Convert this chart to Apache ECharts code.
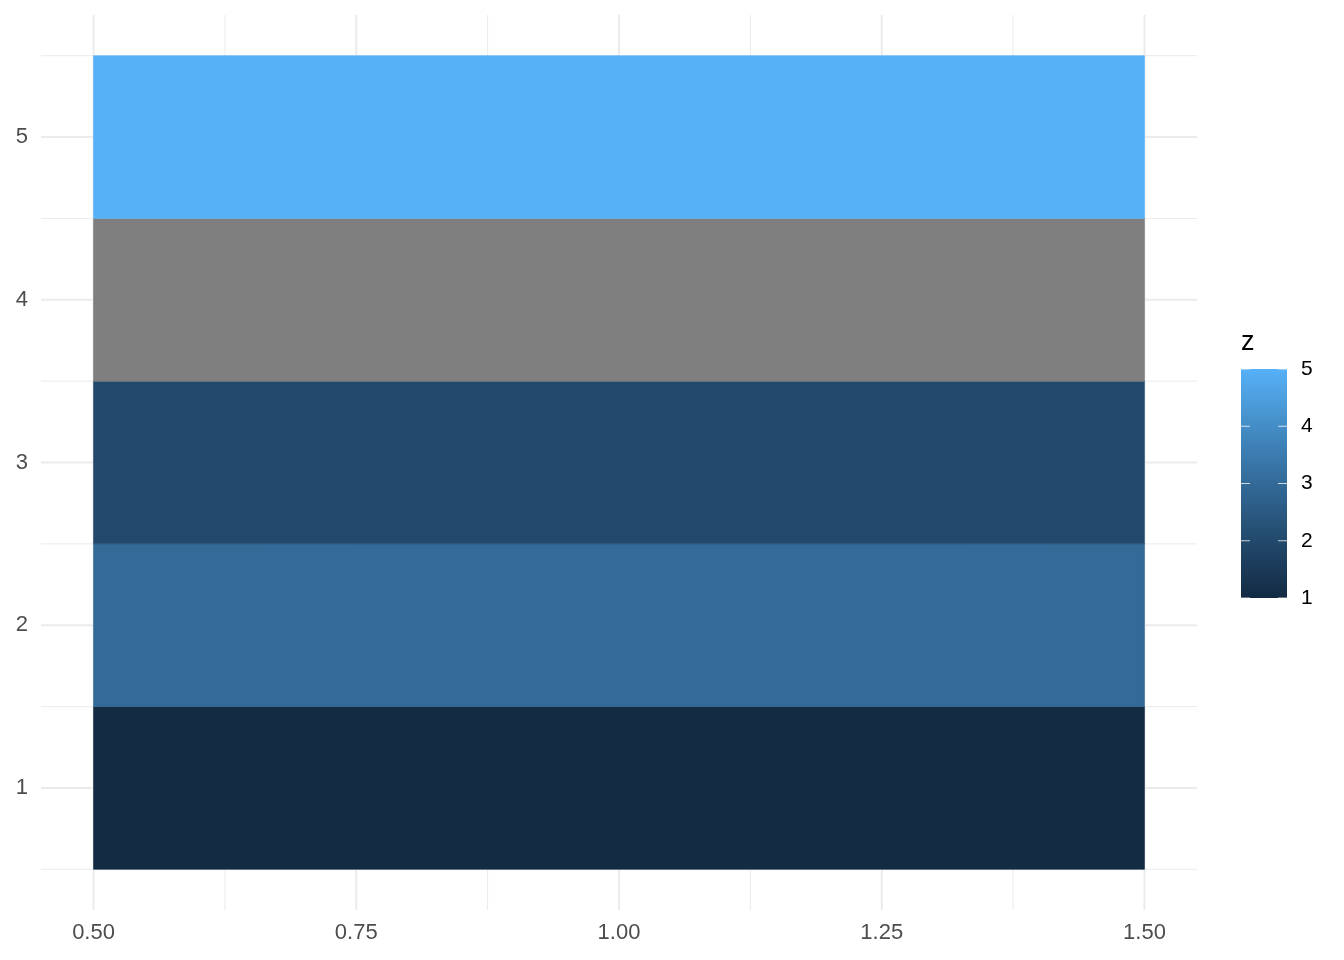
<!DOCTYPE html>
<html>
<head>
<meta charset="utf-8">
<script src="https://cdn.jsdelivr.net/npm/echarts@6/dist/echarts.min.js"></script>
<style>html,body{margin:0;padding:0;background:#fff}#c{width:1344px;height:960px}</style>
</head>
<body>
<div id="c"></div>
<script>
// data
var xs = [1, 1, 1, 1, 1];
var ys = [1, 2, 3, 4, 5];
var zs = [1, 3, 2, null, 5];
// tick labels / grid
var xMajor = [0.5, 0.75, 1.0, 1.25, 1.5];
var xMinor = [0.625, 0.875, 1.125, 1.375];
var yMajor = [1, 2, 3, 4, 5];
var yMinor = [0.5, 1.5, 2.5, 3.5, 4.5, 5.5];
// colour scale
var scaleValues = [1, 2, 3, 4, 5];
var scaleColors = ['#132B43', '#22496C', '#336A98', '#448DC6', '#56B1F7'];
var naColor = '#7F7F7F';

function hexToRgb(h){return [parseInt(h.substr(1,2),16),parseInt(h.substr(3,2),16),parseInt(h.substr(5,2),16)];}
function colorFor(v){
  if (v == null || isNaN(v)) return naColor;
  for (var i=0;i<scaleValues.length-1;i++){
    if (v<=scaleValues[i+1]){
      var t=(v-scaleValues[i])/(scaleValues[i+1]-scaleValues[i]);
      var a=hexToRgb(scaleColors[i]),b=hexToRgb(scaleColors[i+1]);
      return 'rgb('+a.map(function(c,k){return Math.round(c+(b[k]-c)*t);}).join(',')+')';
    }
  }
  return scaleColors[scaleColors.length-1];
}

var tileData = xs.map(function(x,i){return [x, ys[i], zs[i]==null?NaN:zs[i]];});

function gridLineSeries(values, vertical, width){
  return {
    type:'custom', xAxisIndex:0, yAxisIndex:0, silent:true, z:1,
    data: values.map(function(v){return [v];}),
    encode: vertical ? {x:0} : {y:0},
    renderItem:function(params, api){
      var cs=params.coordSys, v=api.value(0);
      var shape;
      if (vertical){
        var px=api.coord([v, 1])[0];
        shape={x1:px,y1:cs.y,x2:px,y2:cs.y+cs.height};
      } else {
        var py=api.coord([1, v])[1];
        shape={x1:cs.x,y1:py,x2:cs.x+cs.width,y2:py};
      }
      return {type:'line', shape:shape, style:{stroke:'#EBEBEB', lineWidth:width}};
    }
  };
}

var chart = echarts.init(document.getElementById('c'), null, {renderer:'canvas'});
var ff = 'Liberation Sans, Arial, sans-serif';
chart.setOption({
  animation:false,
  backgroundColor:'#ffffff',
  title:{text:'z', left:1241, top:329, padding:0, textStyle:{fontFamily:ff, fontSize:27, fontWeight:'normal', color:'#000'}},
  grid:[
    {left:41, right:147, top:15, bottom:50},
    {left:1241, top:369, width:46, height:229}
  ],
  xAxis:[
    {type:'value', gridIndex:0, min:0.45, max:1.55,
      axisLine:{show:false}, axisTick:{show:false}, splitLine:{show:false},
      axisLabel:{customValues:xMajor, formatter:function(v){return v.toFixed(2);}, color:'#4D4D4D', margin:12, fontFamily:ff, fontSize:22}},
    {type:'value', gridIndex:1, min:0, max:1, show:false}
  ],
  yAxis:[
    {type:'value', gridIndex:0, min:0.25, max:5.75,
      axisLine:{show:false}, axisTick:{show:false}, splitLine:{show:false},
      axisLabel:{customValues:yMajor, color:'#4D4D4D', margin:13, fontFamily:ff, fontSize:22}},
    {type:'value', gridIndex:1, min:1, max:5, interval:1, position:'right',
      axisLine:{show:false}, axisTick:{show:false}, splitLine:{show:false},
      axisLabel:{color:'#000', margin:14, fontFamily:ff, fontSize:21}}
  ],
  series:[
    gridLineSeries(xMinor, true, 1),
    gridLineSeries(yMinor, false, 1),
    gridLineSeries(xMajor, true, 2),
    gridLineSeries(yMajor, false, 2),
    {
      type:'custom', xAxisIndex:0, yAxisIndex:0, z:3,
      data: tileData,
      encode:{x:0, y:1},
      renderItem:function(params, api){
        var x=api.value(0), y=api.value(1), z=api.value(2);
        var p1=api.coord([x-0.5, y+0.5]);
        var p2=api.coord([x+0.5, y-0.5]);
        var c=colorFor(z);
        return {type:'rect', shape:{x:p1[0], y:p1[1], width:p2[0]-p1[0], height:p2[1]-p1[1]},
          style:{fill:c, stroke:c, lineWidth:0.6}};
      }
    },
    {
      type:'custom', xAxisIndex:1, yAxisIndex:1, z:3, silent:true,
      data:[[0, scaleValues[0], scaleValues[scaleValues.length-1]]],
      encode:{x:0, y:[1,2]},
      renderItem:function(params, api){
        var lo=api.value(1), hi=api.value(2);
        var pTop=api.coord([0, hi]);
        var pBot=api.coord([1, lo]);
        var stops=scaleValues.map(function(v,i){return {offset:(hi-v)/(hi-lo), color:scaleColors[i]};}).reverse();
        return {type:'rect', shape:{x:pTop[0], y:pTop[1], width:pBot[0]-pTop[0], height:pBot[1]-pTop[1]},
          style:{fill:new echarts.graphic.LinearGradient(0,0,0,1,stops)}};
      }
    },
    {
      type:'custom', xAxisIndex:1, yAxisIndex:1, z:4, silent:true,
      data: scaleValues.map(function(v){return [0, v];}),
      encode:{x:0, y:1},
      renderItem:function(params, api){
        var cs=params.coordSys;
        var py=api.coord([0, api.value(1)])[1];
        var len=9;
        return {type:'group', children:[
          {type:'line', shape:{x1:cs.x, y1:py, x2:cs.x+len, y2:py}, style:{stroke:'rgba(255,255,255,0.75)', lineWidth:1}},
          {type:'line', shape:{x1:cs.x+cs.width-len, y1:py, x2:cs.x+cs.width, y2:py}, style:{stroke:'rgba(255,255,255,0.75)', lineWidth:1}}
        ]};
      }
    }
  ]
});
</script>
</body>
</html>
